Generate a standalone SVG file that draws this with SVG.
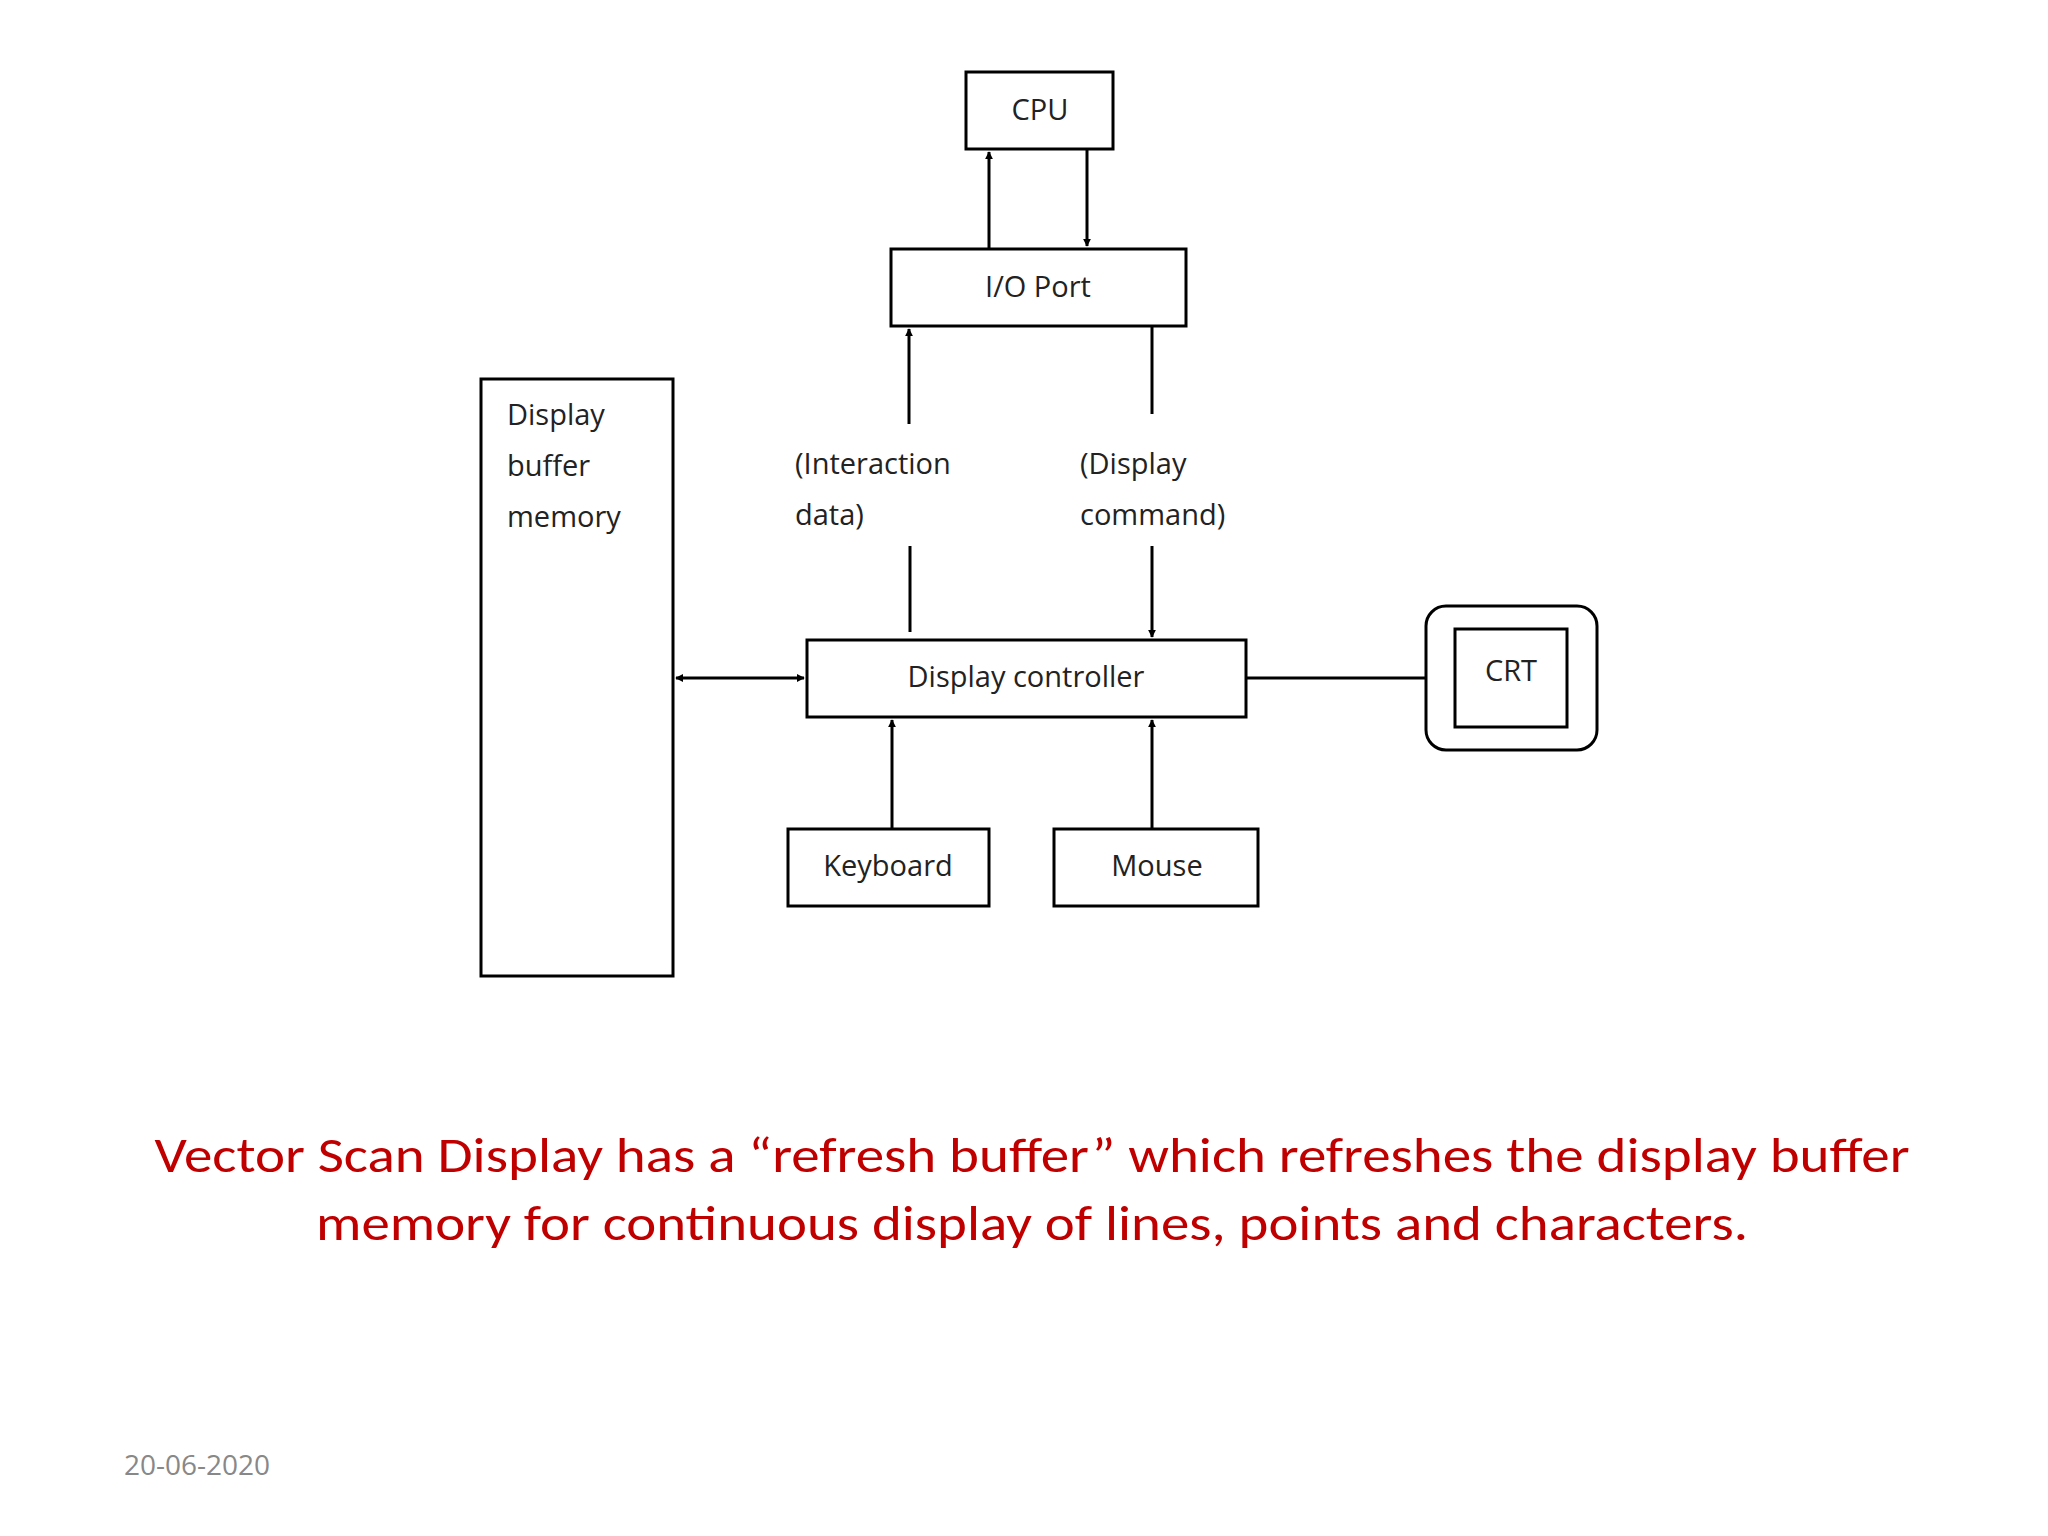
<svg xmlns="http://www.w3.org/2000/svg" width="2048" height="1536" viewBox="0 0 2048 1536">
<style>
.b{fill:#fff;stroke:#000;stroke-width:3}
.l{stroke:#000;stroke-width:3;fill:none}
.t{font-family:"Open Sans","DejaVu Sans",sans-serif;font-size:29px;fill:#222}
.m{text-anchor:middle}
.r{font-family:"Carlito","Open Sans","Liberation Sans",sans-serif;font-size:50px;fill:#c00000;text-anchor:middle}
</style>
<defs>
<marker id="a" viewBox="0 0 10 10" refX="9" refY="5" markerWidth="8" markerHeight="8" orient="auto-start-reverse" markerUnits="userSpaceOnUse"><path d="M0,0 L10,5 L0,10 z" fill="#000"/></marker>
</defs>
<rect width="2048" height="1536" fill="#fff"/>
<g id="connectors">
<line class="l" x1="989" y1="249" x2="989" y2="152" marker-end="url(#a)" style="marker-end:url(#a)"/>
<line class="l" x1="1087" y1="149" x2="1087" y2="246" marker-end="url(#a)"/>
<line class="l" x1="909" y1="424" x2="909" y2="329" marker-end="url(#a)"/>
<line class="l" x1="910" y1="546" x2="910" y2="632"/>
<line class="l" x1="1152" y1="326" x2="1152" y2="414"/>
<line class="l" x1="1152" y1="546" x2="1152" y2="637" marker-end="url(#a)"/>
<line class="l" x1="676" y1="678" x2="804" y2="678" marker-start="url(#a)" marker-end="url(#a)"/>
<line class="l" x1="1246" y1="678" x2="1426" y2="678"/>
<line class="l" x1="892" y1="829" x2="892" y2="720" marker-end="url(#a)"/>
<line class="l" x1="1152" y1="829" x2="1152" y2="720" marker-end="url(#a)"/>
</g>
<g id="cpu"><rect class="b" x="966" y="72" width="147" height="77"/><text class="t m" x="1040" y="120">CPU</text></g>
<g id="io"><rect class="b" x="891" y="249" width="295" height="77"/><text class="t m" x="1038" y="297">I/O Port</text></g>
<g id="dbm"><rect class="b" x="481" y="379" width="192" height="597"/>
<text class="t" x="507" y="425">Display</text><text class="t" x="507" y="476">buffer</text><text class="t" x="507" y="527">memory</text></g>
<g id="lab1"><text class="t" x="795" y="474">(Interaction</text><text class="t" x="795" y="525">data)</text></g>
<g id="lab2"><text class="t" x="1080" y="474">(Display</text><text class="t" x="1080" y="525">command)</text></g>
<g id="dc"><rect class="b" x="807" y="640" width="439" height="77"/><text class="t m" x="1026" y="687">Display controller</text></g>
<g id="crt"><rect class="b" x="1426" y="606" width="171" height="144" rx="20"/><rect class="b" x="1455" y="629" width="112" height="98"/><text class="t m" x="1511" y="681">CRT</text></g>
<g id="kb"><rect class="b" x="788" y="829" width="201" height="77"/><text class="t m" x="888" y="876">Keyboard</text></g>
<g id="mouse"><rect class="b" x="1054" y="829" width="204" height="77"/><text class="t m" x="1157" y="876">Mouse</text></g>
<text class="r" x="1032" y="1172" textLength="1755" lengthAdjust="spacingAndGlyphs">Vector Scan Display has a “refresh buffer” which refreshes the display buffer</text>
<text class="r" x="1032" y="1240" textLength="1432" lengthAdjust="spacingAndGlyphs">memory for continuous display of lines, points and characters.</text>
<text x="124" y="1475" style="font-family:'Open Sans',sans-serif;font-size:28px;fill:#888">20-06-2020</text>
</svg>
